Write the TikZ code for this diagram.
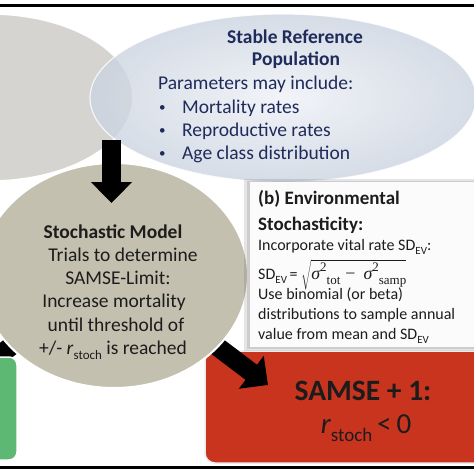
\documentclass[tikz,border=0pt]{standalone}
\usepackage{fontspec}
\setmainfont{Carlito}
\newfontfamily\serifmath{Liberation Serif}
\usetikzlibrary{shapes.geometric,arrows.meta}
\definecolor{navy}{HTML}{1F2B5B}
\definecolor{beige}{HTML}{C4C0B0}
\definecolor{redbox}{HTML}{C9341F}
\definecolor{greenbox}{HTML}{5DB873}
\definecolor{greyell}{HTML}{D5D4D1}
\definecolor{blueouter}{HTML}{CAD3E0}
\definecolor{blueinner}{HTML}{EEF1F6}
\definecolor{ink}{HTML}{1C1C1C}
\newcommand{\fsz}[2]{\fontsize{#1}{#2}\selectfont}
\newcommand{\subtxt}[2]{\raisebox{-0.28em}{\fontsize{#1}{#1}\selectfont #2}}
\newcommand{\sigmasq}[1]{{\itshape σ}\raisebox{0.42em}{\fsz{13}{13}2}\raisebox{-0.32em}{\fsz{13}{13}#1}}
\begin{document}
\begin{tikzpicture}[x=1pt,y=-1pt,
  blockarrow/.style={line width=19pt,-{Triangle[width=40pt,length=21pt]},draw=black},
  navytxt/.style={text=navy,inner sep=0pt},
  inktxt/.style={text=ink,inner sep=0pt},
  bluetitle/.style={navytxt,font=\fsz{19.5}{23}\bfseries,anchor=base},
  bluebody/.style={navytxt,font=\fsz{19.5}{23},anchor=base west},
  bulletmark/.style={navytxt,font=\fsz{13}{13},anchor=base west},
  circtxt/.style={inktxt,font=\fsz{19.5}{23},anchor=base},
  boxhead/.style={inktxt,font=\fsz{19}{23}\bfseries,anchor=base west},
  boxbody/.style={inktxt,font=\fsz{16}{19},anchor=base west},
  rule/.style={line width=3pt,draw=black}]
\useasboundingbox (0,0) rectangle (474,474);
\clip (0,0) rectangle (474,474);
\fill[white] (0,0) rectangle (474,474);

% frame rules
\coordinate (tl) at (0,5); \coordinate (tr) at (474,5);
\coordinate (bl) at (0,467.5); \coordinate (br) at (474,467.5);
\draw[rule] (tl) -- (tr);
\draw[rule] (bl) -- (br);

% ellipses
\node[ellipse,inner sep=0pt,minimum width=286pt,minimum height=167pt,
      fill=greyell,draw=white,line width=1.5pt] (grey) at (-10,97.5) {};
\node[ellipse,inner sep=0pt,minimum width=386pt,minimum height=168pt,
      inner color=blueinner,outer color=blueouter,opacity=0.78,
      draw=white,line width=1.2pt] (blue) at (283,98) {};

% red box
\node[rectangle,rounded corners=10pt,inner sep=0pt,minimum width=285pt,minimum height=112pt,
      fill=redbox,draw=white!85!gray,line width=1.5pt] (red) at (347.5,407) {};

% arrows behind the circle
\coordinate (la0) at (43,322); \coordinate (la1) at (-40,385);
\draw[blockarrow] (la0) -- (la1);
\node[rectangle,rounded corners=8pt,inner sep=0pt,minimum width=30pt,minimum height=103pt,
      fill=greenbox,draw=white,line width=1.5pt] (green) at (2,408.5) {};
\coordinate (ra0) at (185,322); \coordinate (ra1) at (268,385);
\draw[blockarrow] (ra0) -- (ra1);

% stochastic model circle
\node[ellipse,inner sep=0pt,minimum width=268pt,minimum height=225pt,
      fill=beige,draw=white,line width=2pt] (circ) at (114,275.5) {};

% white text box with shadow
\fill[black,opacity=0.10] (244,179) rectangle (480,351);
\fill[black,opacity=0.10] (246.5,180.5) rectangle (480,349);
\node[rectangle,inner sep=0pt,minimum width=230pt,minimum height=165pt,
      fill=white!97!gray] (env) at (365,264.5) {};

% down arrow
\coordinate (da0) at (111.5,140); \coordinate (da1) at (111.5,203);
\draw[blockarrow] (da0) -- (da1);

% stable reference text
\node[bluetitle] (s1) at (295,43) {Stable Reference};
\node[bluetitle] (s2) at (296,65) {Population};
\node[bluebody] (s3) at (158,89) {Parameters may include:};
\node[bulletmark] (bu1) at (159,111) {\textbullet};
\node[bulletmark] (bu2) at (159,134) {\textbullet};
\node[bulletmark] (bu3) at (159,157) {\textbullet};
\node[bluebody] (s4) at (182,113) {Mortality rates};
\node[bluebody] (s5) at (182,136) {Reproductive rates};
\node[bluebody] (s6) at (182,159) {Age class distribution};

% circle text
\node[circtxt,font=\fsz{19.5}{23}\bfseries] (c1) at (113,238) {Stochastic Model};
\node[circtxt] (c2) at (123,261) {Trials to determine};
\node[circtxt] (c3) at (118,284) {SAMSE-Limit:};
\node[circtxt] (c4) at (114,307) {Increase mortality};
\node[circtxt] (c5) at (116,331) {until threshold of};
\node[circtxt] (c6) at (113,354) {+/- \textit{r}\subtxt{13}{stoch} is reached};

% environmental box text
\node[boxhead] (e1) at (258,204) {(b) Environmental};
\node[boxhead] (e2) at (258,230) {Stochasticity:};
\node[boxbody] (e3) at (258,250.5) {Incorporate vital rate SD\subtxt{11}{EV}:};
\node[boxbody] (e4) at (258,279) {SD\subtxt{11}{EV}\,= $\sqrt{\hbox{\serifmath\fsz{18}{20}\sigmasq{tot}\hspace{5pt}−\hspace{8pt}\sigmasq{samp}}}$};
\node[boxbody] (e5) at (258,299) {Use binomial (or beta)};
\node[boxbody] (e6) at (258,319) {distributions to sample annual};
\node[boxbody] (e7) at (258,339) {value from mean and SD\subtxt{11}{EV}};

% red box text
\node[inktxt,font=\fsz{29.5}{32}\bfseries,anchor=base] (r1) at (363,400) {SAMSE + 1:};
\node[inktxt,font=\fsz{29}{32},anchor=base] (r2) at (366,433) {\textit{r}\subtxt{19}{stoch}\,<\,0};
\end{tikzpicture}
\end{document}
